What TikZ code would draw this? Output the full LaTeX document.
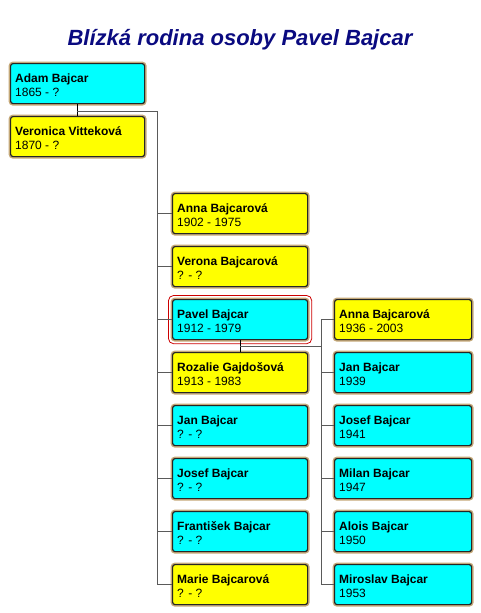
\documentclass[tikz,border=0pt]{standalone}
\usepackage{fontspec}
\setmainfont{Liberation Sans}
\usetikzlibrary{fit}
\definecolor{boxcyan}{HTML}{00FFFF}
\definecolor{boxyellow}{HTML}{FFFF00}
\definecolor{shadowtan}{HTML}{C4A878}
\definecolor{titleblue}{HTML}{0A0A80}
\definecolor{linegray}{HTML}{5A5A5A}
\tikzset{
  personbox/.style={rectangle, rounded corners=2.5pt, minimum height=40pt, inner sep=0pt,
    anchor=north west, draw=black!85, line width=1.2pt,
    preaction={draw=shadowtan, line width=4pt}},
  namelabel/.style={anchor=base west, inner sep=0pt, font=\fontsize{12}{14}\selectfont\bfseries},
  datelabel/.style={anchor=base west, inner sep=0pt, font=\fontsize{12}{14}\selectfont},
  conn/.style={draw=linegray, line width=0.9pt},
  connblack/.style={draw=black, line width=0.9pt},
}
\newcommand{\personnode}[7]{%
  \node[personbox, fill=#4, minimum width=#7] (#1) at (#2,#3) {};
  \node[namelabel] (#1-n) at ([xshift=5pt,yshift=-19.5pt]#1.north west) {#5};
  \node[datelabel] (#1-d) at ([xshift=5pt,yshift=-33.5pt]#1.north west) {#6};
}
\begin{document}
\begin{tikzpicture}[x=1pt,y=-1pt]
\useasboundingbox (0,0) rectangle (480,613);
\node[font=\fontsize{22}{26}\selectfont\bfseries\itshape, text=titleblue] (title) at (240,40) {Blízká rodina osoby Pavel Bajcar};

\coordinate (c1) at (77,111);
\coordinate (c2) at (157,111);
\coordinate (p2) at (321,346);

\personnode{adam}{10}{63}{boxcyan}{Adam Bajcar}{1865 - ?}{134pt}
\personnode{veronica}{10}{116}{boxyellow}{Veronica Vitteková}{1870 - ?}{134pt}

\personnode{anna}{172}{193}{boxyellow}{Anna Bajcarová}{1902 - 1975}{135pt}
\personnode{verona}{172}{246}{boxyellow}{Verona Bajcarová}{? - ?}{135pt}
\personnode{pavel}{172}{299}{boxcyan}{Pavel Bajcar}{1912 - 1979}{135pt}
\personnode{rozalie}{172}{352}{boxyellow}{Rozalie Gajdošová}{1913 - 1983}{135pt}
\personnode{jan}{172}{405}{boxcyan}{Jan Bajcar}{? - ?}{135pt}
\personnode{josef}{172}{458}{boxcyan}{Josef Bajcar}{? - ?}{135pt}
\personnode{frantisek}{172}{511}{boxcyan}{František Bajcar}{? - ?}{135pt}
\personnode{marie}{172}{564}{boxyellow}{Marie Bajcarová}{? - ?}{135pt}

\personnode{ganna}{334}{299}{boxyellow}{Anna Bajcarová}{1936 - 2003}{137pt}
\personnode{gjan}{334}{352}{boxcyan}{Jan Bajcar}{1939}{137pt}
\personnode{gjosef}{334}{405}{boxcyan}{Josef Bajcar}{1941}{137pt}
\personnode{gmilan}{334}{458}{boxcyan}{Milan Bajcar}{1947}{137pt}
\personnode{galois}{334}{511}{boxcyan}{Alois Bajcar}{1950}{137pt}
\personnode{gmiroslav}{334}{564}{boxcyan}{Miroslav Bajcar}{1953}{137pt}

\node[draw=red!80!black, line width=0.8pt, rounded corners=5pt, inner sep=3.5pt, fit=(pavel)] (sel) {};

\draw[connblack] (adam.south) -- (veronica.north);
\draw[conn] (c1) -- (c2) -- (c2 |- marie.west);
\foreach \n in {anna,verona,pavel,rozalie,jan,josef,frantisek,marie}
  \draw[conn] (c2 |- \n.west) -- (\n.west);

\draw[connblack] (pavel.south) -- (rozalie.north);
\coordinate (p1) at (pavel.south |- p2);
\draw[conn] (p1) -- (p2);
\draw[conn] (p2 |- ganna.west) -- (p2 |- gmiroslav.west);
\foreach \n in {ganna,gjan,gjosef,gmilan,galois,gmiroslav}
  \draw[conn] (p2 |- \n.west) -- (\n.west);
\end{tikzpicture}
\end{document}
